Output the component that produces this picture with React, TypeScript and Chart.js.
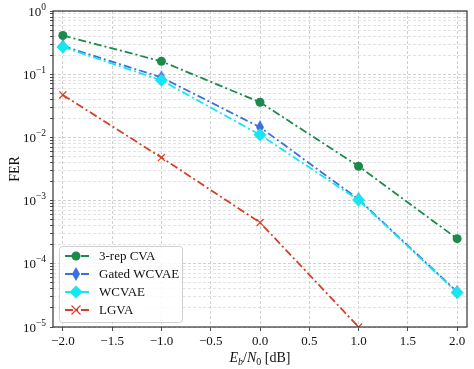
import React, { useEffect, useRef } from "react";
import { Chart, registerables } from "chart.js";

Chart.register(...registerables);

const xValues = [-2, -1, 0, 1, 2];
const cvaFER = [0.41, 0.16, 0.036, 0.0035, 0.00025];
const gatedFER = [0.28, 0.089, 0.0145, 0.00105, 0.000036];
const wcvaeFER = [0.27, 0.08, 0.011, 0.00102, 0.000035];
const lgvaFER = [0.047, 0.0048, 0.00045, 0.00001];

const seriesNames = ["3-rep CVA", "Gated WCVAE", "WCVAE", "LGVA"];
const xTickValues = [-2, -1.5, -1, -0.5, 0, 0.5, 1, 1.5, 2];
const yDecades = [-5, -4, -3, -2, -1, 0];

const GREEN = "#1b8a4c";
const BLUE = "#3d70df";
const CYAN = "#14e6f2";
const RED = "#d3412c";
const FONT = "'Liberation Serif', 'DejaVu Serif', serif";
const DASH = [8, 3, 2, 3];

function thinDiamond(w: number, h: number, color: string) {
  const c = document.createElement("canvas");
  c.width = w;
  c.height = h;
  const g = c.getContext("2d")!;
  g.fillStyle = color;
  g.beginPath();
  g.moveTo(w / 2, 0);
  g.lineTo(w, h / 2);
  g.lineTo(w / 2, h);
  g.lineTo(0, h / 2);
  g.closePath();
  g.fill();
  return c;
}

export default function App() {
  const ref = useRef<HTMLCanvasElement | null>(null);

  useEffect(() => {
    const canvas = ref.current!;
    const gatedMarker = thinDiamond(8, 14, BLUE);

    const drawMarker = (g: CanvasRenderingContext2D, kind: string, x: number, y: number, color: string) => {
      g.save();
      g.fillStyle = color;
      g.strokeStyle = color;
      g.setLineDash([]);
      if (kind === "circle") {
        g.beginPath();
        g.arc(x, y, 4.5, 0, Math.PI * 2);
        g.fill();
      } else if (kind === "thin") {
        g.drawImage(gatedMarker, x - 4, y - 7);
      } else if (kind === "diamond") {
        g.beginPath();
        g.moveTo(x, y - 6.5);
        g.lineTo(x + 6.5, y);
        g.lineTo(x, y + 6.5);
        g.lineTo(x - 6.5, y);
        g.closePath();
        g.fill();
      } else {
        g.lineWidth = 1.2;
        g.beginPath();
        g.moveTo(x - 4.5, y - 4.5);
        g.lineTo(x + 4.5, y + 4.5);
        g.moveTo(x + 4.5, y - 4.5);
        g.lineTo(x - 4.5, y + 4.5);
        g.stroke();
      }
      g.restore();
    };

    const decor = {
      id: "decor",
      afterDraw(chart: any) {
        const g: CanvasRenderingContext2D = chart.ctx;
        const a = chart.chartArea;
        // frame
        g.save();
        g.strokeStyle = "#333";
        g.lineWidth = 1.2;
        g.strokeRect(a.left, a.top, a.right - a.left, a.bottom - a.top);
        g.restore();

        // y tick labels: 10 with superscript exponent
        const ys = chart.scales.y;
        g.save();
        g.fillStyle = "#111";
        g.textBaseline = "alphabetic";
        g.textAlign = "left";
        yDecades.forEach((d) => {
          const py = ys.getPixelForValue(Math.pow(10, d));
          const expText = d === 0 ? "0" : "\u2212" + String(-d);
          g.font = `13px ${FONT}`;
          const wBase = g.measureText("10").width;
          g.font = `9.5px ${FONT}`;
          const wExp = g.measureText(expText).width;
          const right = a.left - 7;
          const x0 = right - wBase - wExp;
          g.font = `13px ${FONT}`;
          g.fillText("10", x0, py + 4.5);
          g.font = `9.5px ${FONT}`;
          g.fillText(expText, x0 + wBase, py - 1.5);
        });
        g.restore();

        // legend
        const colors = [GREEN, BLUE, CYAN, RED];
        const kinds = ["circle", "thin", "diamond", "x"];
        const bx = a.left + 6, by = a.bottom - 81, bw = 123, bh = 76;
        g.save();
        g.fillStyle = "rgba(255,255,255,0.85)";
        g.strokeStyle = "#d0d0d0";
        g.lineWidth = 1;
        g.beginPath();
        (g as any).roundRect(bx + 0.5, by + 0.5, bw, bh, 3);
        g.fill();
        g.stroke();
        seriesNames.forEach((name, i) => {
          const y = by + 10 + i * 18;
          g.strokeStyle = colors[i];
          g.lineWidth = 1.8;
          g.setLineDash(DASH);
          g.beginPath();
          g.moveTo(bx + 6, y);
          g.lineTo(bx + 30, y);
          g.stroke();
          g.setLineDash([]);
          drawMarker(g, kinds[i], bx + 17, y, colors[i]);
          g.fillStyle = "#111";
          g.font = `13px ${FONT}`;
          g.textBaseline = "middle";
          g.textAlign = "left";
          g.fillText(name, bx + 40, y + 1);
        });
        g.restore();

        // x title with subscripts
        g.save();
        g.fillStyle = "#111";
        g.textBaseline = "alphabetic";
        g.textAlign = "left";
        const parts: [string, string, number][] = [
          ["E", `italic 14px ${FONT}`, 0],
          ["b", `italic 10px ${FONT}`, 3],
          ["/", `14px ${FONT}`, 0],
          ["N", `italic 14px ${FONT}`, 0],
          ["0", `10px ${FONT}`, 3],
          [" [dB]", `14px ${FONT}`, 0],
        ];
        let total = 0;
        parts.forEach(([t, f]) => {
          g.font = f;
          total += g.measureText(t).width;
        });
        let x = (a.left + a.right) / 2 - total / 2;
        const base = 362;
        parts.forEach(([t, f, dy]) => {
          g.font = f;
          g.fillText(t, x, base + dy);
          x += g.measureText(t).width;
        });
        g.restore();
      },
    };

    const ds = (label: string, data: number[], color: string, extra: any) => ({
      label,
      data: data.map((v, i) => ({ x: xValues[i], y: v })),
      borderColor: color,
      backgroundColor: color,
      pointBackgroundColor: color,
      pointBorderColor: color,
      borderWidth: 1.8,
      borderDash: DASH,
      pointBorderWidth: 0,
      tension: 0,
      ...extra,
    });

    const chart = new Chart(canvas, {
      type: "line",
      data: {
        datasets: [
          ds(seriesNames[0], cvaFER, GREEN, { pointStyle: "circle", pointRadius: 4.5, order: 4 }),
          ds(seriesNames[1], gatedFER, BLUE, { pointStyle: gatedMarker, pointRadius: 7, order: 3 }),
          ds(seriesNames[2], wcvaeFER, CYAN, { pointStyle: "rectRot", pointRadius: 6.5, order: 2 }),
          ds(seriesNames[3], lgvaFER, RED, { pointStyle: "crossRot", pointRadius: 5, pointBorderWidth: 1.2, order: 1 }),
        ] as any,
      },
      options: {
        animation: false,
        responsive: false,
        devicePixelRatio: 1,
        layout: { padding: { top: 11, right: 6, left: 0, bottom: 0 } },
        plugins: { legend: { display: false }, tooltip: { enabled: false } },
        scales: {
          x: {
            type: "linear",
            min: -2.1,
            max: 2.1,
            afterBuildTicks: (s: any) => {
              s.ticks = xTickValues.map((v) => ({ value: v, major: true }));
            },
            afterFit: (s: any) => {
              s.height = 42;
            },
            ticks: {
              autoSkip: false,
              maxRotation: 0,
              padding: 3,
              color: "#111",
              font: { family: FONT, size: 13 },
              callback: (v: any) => Number(v).toFixed(1).replace("-", "\u2212"),
            },
            grid: {
              color: "#c4c4c4",
              lineWidth: 0.8,
              tickColor: "#222",
              tickLength: 4,
            },
            border: { display: false, dash: [3, 2] },
          },
          y: {
            type: "logarithmic",
            min: 1e-5,
            max: 1,
            afterBuildTicks: (s: any) => {
              const t: any[] = [];
              yDecades.forEach((d) => {
                t.push({ value: Math.pow(10, d), major: true });
                if (d < 0) for (let k = 2; k <= 9; k++) t.push({ value: k * Math.pow(10, d), major: false });
              });
              t.sort((a, b) => a.value - b.value);
              s.ticks = t;
            },
            afterFit: (s: any) => {
              s.width = 53;
            },
            title: {
              display: true,
              text: "FER",
              color: "#111",
              font: { family: FONT, size: 14 },
              padding: { top: 6.5, bottom: 2 },
            },
            ticks: {
              display: false,
              autoSkip: false,
            },
            grid: {
              color: (c: any) => (c.tick && c.tick.major ? "#c4c4c4" : "#dcdcdc"),
              lineWidth: 0.8,
              tickColor: "#222",
              tickLength: 3,
            },
            border: { display: false, dash: [3, 2] },
          },
        },
      },
      plugins: [decor],
    } as any);

    return () => chart.destroy();
  }, []);

  return (
    <div style={{ position: "fixed", left: 0, top: 0, width: 474, height: 369, background: "#fff" }}>
      <canvas ref={ref} width={474} height={369} />
    </div>
  );
}
